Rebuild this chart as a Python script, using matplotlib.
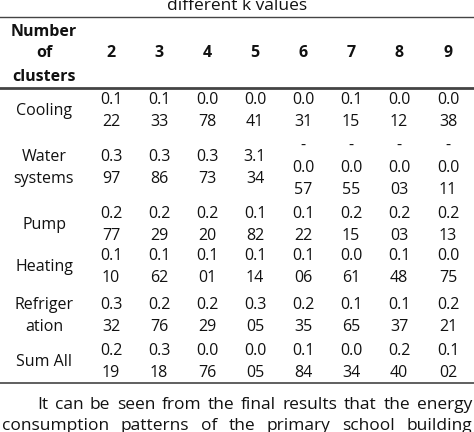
import matplotlib
matplotlib.use("Agg")
import matplotlib.pyplot as plt
from matplotlib.lines import Line2D

W, H = 474, 432
clusters = ["2", "3", "4", "5", "6", "7", "8", "9"]
categories = ["Cooling", "Water\nsystems", "Pump", "Heating", "Refriger\nation", "Sum All"]
cooling = ["0.122", "0.133", "0.078", "0.041", "0.031", "0.115", "0.012", "0.038"]
water = ["0.397", "0.386", "0.373", "3.134", "-0.057", "-0.055", "-0.003", "-0.011"]
pump = ["0.277", "0.229", "0.220", "0.182", "0.122", "0.215", "0.203", "0.213"]
heating = ["0.110", "0.162", "0.101", "0.114", "0.106", "0.061", "0.148", "0.075"]
refrig = ["0.332", "0.276", "0.229", "0.305", "0.235", "0.165", "0.137", "0.221"]
sumall = ["0.219", "0.318", "0.076", "0.005", "0.184", "0.034", "0.240", "0.102"]
rows = [cooling, water, pump, heating, refrig, sumall]

fig = plt.figure(figsize=(W / 100, H / 100), dpi=100)
FONT = "Open Sans"
FS = 11.5

def T(x, y, s, **kw):
    kw.setdefault("fontsize", FS)
    kw.setdefault("ha", "center")
    return fig.text(x / W, 1 - y / H, s, va="center", family=FONT, color="#111111", **kw)

def hline(y, lw):
    fig.add_artist(Line2D([0, 1], [1 - y / H, 1 - y / H], color="#444444", lw=lw, transform=fig.transFigure))

T(237, 6, "different k values", fontsize=12.5)
hline(17, 1.0)
T(44, 32, "Number", weight="bold")
T(44, 53, "of", weight="bold")
T(44, 77, "clusters", weight="bold")
xs = [111, 159, 207, 255, 303, 351, 399, 448]
for x, c in zip(xs, clusters):
    T(x, 53, c, weight="bold")
hline(88, 2.0)

row_y = [111, 168, 225, 267, 316, 362]
for cat, vals, y in zip(categories, rows, row_y):
    parts = cat.split("\n")
    if len(parts) == 2:
        T(44, y - 11, parts[0]); T(44, y + 11, parts[1])
    else:
        T(44, y, cat)
    for x, v in zip(xs, vals):
        if v.startswith("-"):
            v = v[1:]
            T(x, y - 22, "-")
            T(x, y, v[:3]); T(x, y + 22, v[3:])
        else:
            T(x, y - 11, v[:3]); T(x, y + 11, v[3:])
hline(383, 1.2)

# justified paragraph
fig.canvas.draw()
r = fig.canvas.get_renderer()
lines = [(37, "It can be seen from the final results that the energy", 405),
         (2, "consumption patterns of the primary school building", 426)]
for x0, line, y in lines:
    words = line.split()
    arts = [T(0, y, w, ha="left", fontsize=12.5) for w in words]
    widths = [a.get_window_extent(r).width for a in arts]
    gap = (W - 2 - x0 - sum(widths)) / (len(words) - 1)
    x = x0
    for a, w in zip(arts, widths):
        a.set_x(x / W)
        x += w + gap

fig.savefig("out.png", dpi=100)
